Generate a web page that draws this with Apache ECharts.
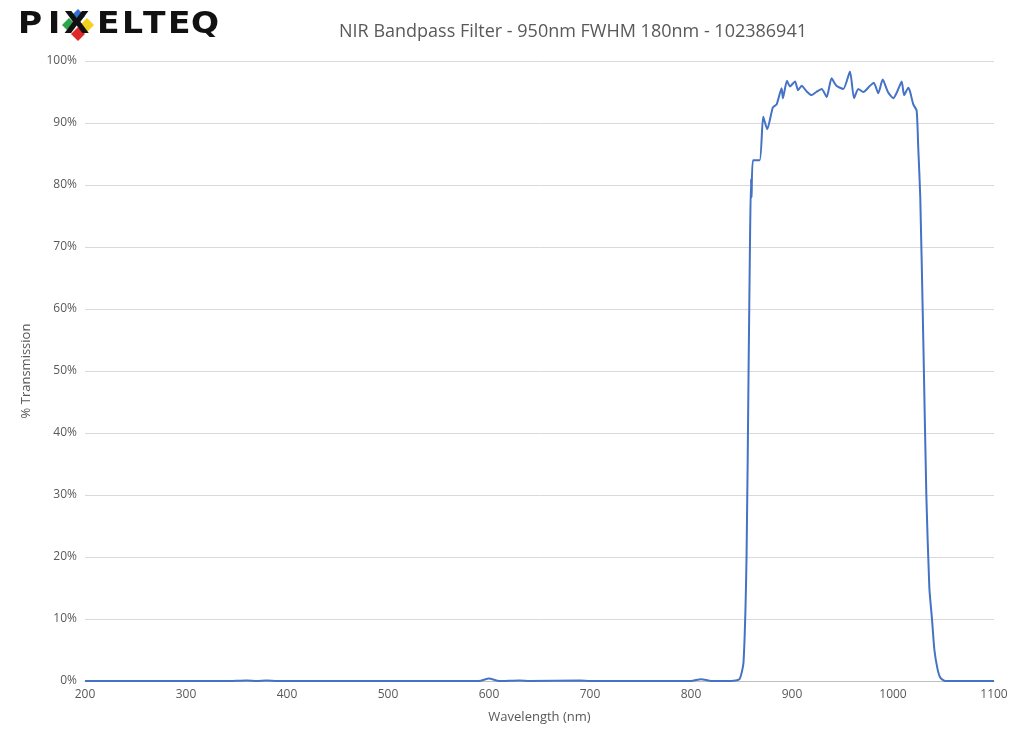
<!DOCTYPE html>
<html>
<head>
<meta charset="utf-8">
<script src="https://cdn.jsdelivr.net/npm/echarts@6/dist/echarts.min.js"></script>
<style>html,body{margin:0;padding:0;background:#fff}#main{width:1024px;height:744px}</style>
</head>
<body>
<div id="main"></div>
<script>
// wavelength (nm) and % transmission
var wavelengths = [200, 340, 360, 370, 380, 390, 480, 590, 600, 610, 630, 640, 690, 700, 800, 810, 820, 840, 848, 852, 855, 857, 858.5, 859.4, 860, 861.4, 868, 871.5, 875.5, 881, 884.8, 889.7, 891, 895, 898, 903, 906, 909.6, 914.5, 919.4, 924, 929.4, 934.3, 939.2, 944, 950.8, 957.4, 961.4, 965.6, 970.6, 977.2, 981, 985.4, 989.8, 995, 1000.3, 1004, 1008.6, 1011, 1015.2, 1017, 1020.1, 1023.4, 1025, 1027, 1030, 1033, 1036, 1038.6, 1041, 1044, 1047, 1052, 1100];
var transmission = [0, 0, 0.1, 0, 0.1, 0, 0, 0, 0.4, 0, 0.1, 0, 0.1, 0, 0, 0.3, 0, 0, 0.3, 3, 20, 50, 72, 81, 78, 84, 84, 91, 89, 92.5, 93, 95.6, 94, 96.8, 95.9, 96.7, 95.3, 96, 95.1, 94.5, 95, 95.5, 94.2, 97.2, 96, 95.5, 98.3, 94, 95.5, 95, 96, 96.5, 94.8, 97, 95, 94, 95, 96.7, 94.5, 95.7, 95, 93, 92, 86, 78, 55, 30, 15, 10, 5, 2, 0.5, 0, 0];
var xTicks = [200, 300, 400, 500, 600, 700, 800, 900, 1000, 1100];

var points = wavelengths.map(function(w, i) { return [w, transmission[i]]; });

// logo: letters placed one by one, coloured diamonds behind the X
var logoFont = 'bold 30px "DejaVu Sans"';
var logoLetters = [['P', 18], ['I', 48], ['X', 64], ['E', 97], ['L', 122], ['T', 143], ['E', 168], ['Q', 191]];
function diamond(cx, cy, r, color) {
	return { type: 'polygon', shape: { points: [[cx, cy - r], [cx + r, cy], [cx, cy + r], [cx - r, cy]] }, style: { fill: color } };
}
var graphics = [
	diamond(78, 16, 7, '#2f6fd6'),
	diamond(69, 25, 7, '#2aa64a'),
	diamond(87, 25, 7, '#f2d21e'),
	diamond(78, 34, 7, '#e0282b')
];
logoLetters.forEach(function(l) {
	graphics.push({ type: 'text', x: l[1], y: 10, scaleX: 1.1, style: { text: l[0], fill: '#111', font: logoFont } });
});

var myChart = echarts.init(document.getElementById('main'));
var option = {
	animation: false,
	title: {
		text: 'NIR Bandpass Filter - 950nm FWHM 180nm - 102386941',
		left: 568, top: 18, textAlign: 'center',
		textStyle: { color: '#595959', fontSize: 18, fontWeight: 'normal', fontFamily: 'Open Sans' }
	},
	graphic: graphics,
	grid: { left: 85, right: 30, top: 61, bottom: 63 },
	xAxis: {
		type: 'value', min: 200, max: 1100, interval: 100,
		name: 'Wavelength (nm)', nameLocation: 'middle', nameGap: 30,
		nameTextStyle: { color: '#595959', fontSize: 13, fontFamily: 'Open Sans' },
		axisLine: { lineStyle: { color: '#bfbfbf' } },
		axisTick: { show: false },
		splitLine: { show: false },
		axisLabel: { color: '#595959', fontSize: 12, fontFamily: 'Open Sans',
			formatter: function(v) { return xTicks.indexOf(v) >= 0 ? v : ''; } }
	},
	yAxis: {
		type: 'value', min: 0, max: 100, interval: 10,
		name: '% Transmission', nameLocation: 'middle', nameGap: 52,
		nameTextStyle: { color: '#595959', fontSize: 13, fontFamily: 'Open Sans' },
		axisLine: { show: false }, axisTick: { show: false },
		splitLine: { lineStyle: { color: '#d9d9d9' } },
		axisLabel: { color: '#595959', fontSize: 12, fontFamily: 'Open Sans', formatter: '{value}%' }
	},
	series: [{
		type: 'line', data: points, showSymbol: false, smooth: 0.2,
		lineStyle: { color: '#4472c4', width: 2 }
	}]
};
myChart.setOption(option);
</script>
</body>
</html>
